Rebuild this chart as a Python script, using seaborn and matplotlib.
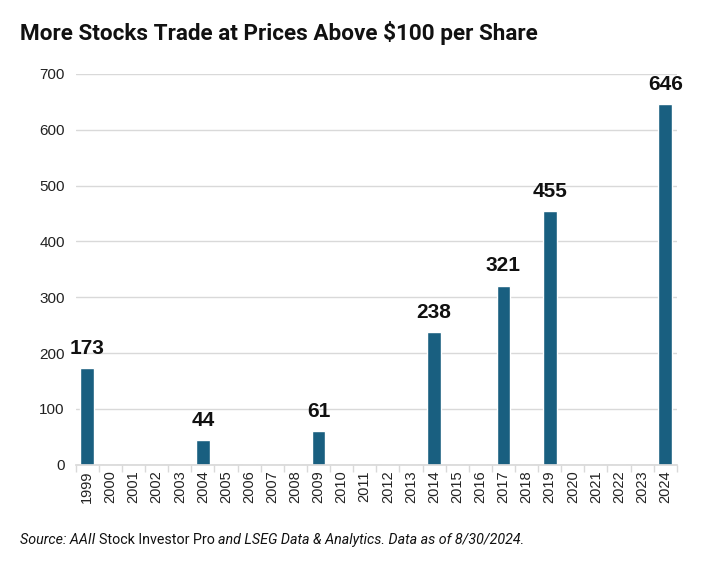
import matplotlib
matplotlib.use("Agg")
import matplotlib.pyplot as plt
import numpy as np
import pandas as pd
import seaborn as sns

# data
years = [str(y) for y in range(1999, 2025)]
counts = [173, 0, 0, 0, 0, 44, 0, 0, 0, 0, 61, 0, 0, 0, 0, 238, 0, 0, 321, 0, 455, 0, 0, 0, 0, 646]
y_ticks = [0, 100, 200, 300, 400, 500, 600, 700]

TITLE = "More Stocks Trade at Prices Above $100 per Share"
BAR_COLOR = "#195f80"
NARROW = ["Roboto", "DejaVu Sans"]

sns.set_theme(style="white")
plt.rcParams["font.family"] = ["Liberation Sans", "DejaVu Sans"]

df = pd.DataFrame({"year": years, "count": counts})

fig = plt.figure(figsize=(7.08, 5.64), dpi=100)
ax = fig.add_axes([0.107, 0.176, 0.849, 0.693])

sns.barplot(data=df, x="year", y="count", color=BAR_COLOR, width=0.6,
            saturation=1, ax=ax)

ax.set_ylim(0, 700)
ax.set_xlim(-0.5, len(years) - 0.5)
ax.set_yticks(y_ticks)
ax.yaxis.grid(True, color="#d9d9d9", lw=1)
ax.set_axisbelow(True)
ax.set_xlabel("")
ax.set_ylabel("")
for s in ["top", "right", "left"]:
    ax.spines[s].set_visible(False)
ax.spines["bottom"].set_color("#d9d9d9")
ax.tick_params(axis="y", length=0, labelsize=11, colors="#222222", pad=8)
ax.tick_params(axis="x", which="major", length=0, labelsize=10.5, colors="#222222",
               rotation=90, pad=4)
ax.set_xticks(np.arange(-0.5, len(years), 1), minor=True)
ax.tick_params(axis="x", which="minor", length=5, color="#d9d9d9", width=1, bottom=True)

for i, v in enumerate(counts):
    if v:
        ax.text(i, v + 18, str(v), ha="center", va="bottom",
                fontsize=15, fontweight="bold", color="#111111")

fig.text(0.028, 0.942, TITLE, ha="left", va="center", fontsize=16.2,
         fontweight="bold", family=NARROW, color="#111111")

# footer with mixed italic / regular pieces
pieces = [("Source: AAII ", "italic"), ("Stock Investor Pro ", "normal"),
          ("and LSEG Data & Analytics. Data as of 8/30/2024.", "italic")]
fig.canvas.draw()
r = fig.canvas.get_renderer()
x = 0.028
for txt, st in pieces:
    t = fig.text(x, 0.043, txt, ha="left", va="center", fontsize=10.3, style=st,
                 family=NARROW, color="#111111")
    bb = t.get_window_extent(renderer=r)
    x += bb.width / fig.bbox.width

fig.savefig("out.png", dpi=100)
